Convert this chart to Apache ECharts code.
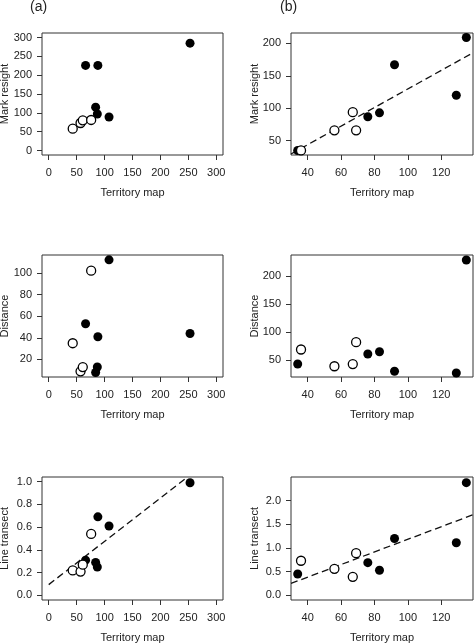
<!DOCTYPE html>
<html>
<head>
<meta charset="utf-8">
<script src="https://cdn.jsdelivr.net/npm/echarts@6/dist/echarts.min.js"></script>
<style>
  html, body { margin: 0; padding: 0; background: #fff; }
  #chart { width: 474px; height: 643px; }
</style>
</head>
<body>
<div id="chart"></div>
<script>
// column (a): territory map x values, filled and open points
const mapAFilled = [66, 84, 87, 88, 108, 253]
const mapAOpen = [43, 57, 61, 76]
const markAFilled = [226, 115, 97, 226, 89, 285]
const markAOpen = [58, 73, 80, 81]
const distAFilled = [53, 8, 13, 41, 112, 44]
const distAOpen = [35, 9, 13, 102]
const lineAFilled = [0.31, 0.29, 0.25, 0.69, 0.61, 0.99]
const lineAOpen = [0.22, 0.21, 0.27, 0.54]

// column (b)
const mapBFilled = [34, 76, 83, 92, 129, 135]
const mapBOpen = [36, 56, 67, 69]
const markBFilled = [35, 87, 93, 167, 120, 209]
const markBOpen = [35, 66, 94, 66]
const distBFilled = [43, 61, 65, 30, 27, 229]
const distBOpen = [69, 39, 43, 82]
const lineBFilled = [0.45, 0.69, 0.53, 1.2, 1.11, 2.38]
const lineBOpen = [0.73, 0.56, 0.39, 0.89]

// dashed fit lines (end points)
const fitMarkB = [[30, 29.6], [138.8, 185.3]]
const fitLineA = [[0, 0.095], [248.5, 1.04]]
const fitLineB = [[30, 0.25], [138.8, 1.70]]

// tick labels
const ticksMapA = [0, 50, 100, 150, 200, 250, 300]
const ticksMapB = [40, 60, 80, 100, 120]
const ticksMarkA = [0, 50, 100, 150, 200, 250, 300]
const ticksMarkB = [50, 100, 150, 200]
const ticksDistA = [20, 40, 60, 80, 100]
const ticksDistB = [50, 100, 150, 200]
const ticksLineA = [0, 0.2, 0.4, 0.6, 0.8, 1.0]
const ticksLineB = [0, 0.5, 1.0, 1.5, 2.0]

const font = 'Liberation Sans, Arial, sans-serif'
const txt = '#222'

const zip = (xs, ys) => xs.map((x, i) => [x, ys[i]])

const grids = [
  { left: 42, top: 33, width: 181, height: 122 },
  { left: 291, top: 33, width: 182, height: 122 },
  { left: 42, top: 255, width: 181, height: 122 },
  { left: 291, top: 255, width: 182, height: 122 },
  { left: 42, top: 477, width: 181, height: 123 },
  { left: 291, top: 477, width: 182, height: 123 },
].map(g => ({
  ...g,
  show: true,
  containLabel: false,
  outerBoundsMode: 'none',
  borderColor: '#333',
  borderWidth: 1,
  backgroundColor: 'transparent',
}))

const makeAxis = (gridIndex, min, max, ticks, name, gap, digits, margin) => ({
  gridIndex,
  type: 'value',
  min,
  max,
  name,
  nameLocation: 'middle',
  nameGap: gap,
  nameMoveOverlap: false,
  nameTextStyle: { color: txt, fontSize: 11, fontFamily: font },
  axisLine: { show: false, onZero: false },
  splitLine: { show: false },
  axisTick: { show: true, length: 5, customValues: ticks, lineStyle: { color: '#333' } },
  axisLabel: {
    customValues: ticks,
    margin,
    color: txt,
    fontSize: 11,
    fontFamily: font,
    formatter: v => v.toFixed(digits),
  },
})

const xAxes = [0, 1, 2, 3, 4, 5].map(i => i % 2 === 0
  ? makeAxis(i, -12, 312, ticksMapA, 'Territory map', 32, 0, 12)
  : makeAxis(i, 30, 139, ticksMapB, 'Territory map', 32, 0, 12))

const yAxes = [
  makeAxis(0, -12, 312, ticksMarkA, 'Mark resight', 32, 0, 10),
  makeAxis(1, 28, 216, ticksMarkB, 'Mark resight', 31, 0, 10),
  makeAxis(2, 3.8, 116.5, ticksDistA, 'Distance', 32, 0, 10),
  makeAxis(3, 19.8, 238, ticksDistB, 'Distance', 31, 0, 10),
  makeAxis(4, -0.04, 1.04, ticksLineA, 'Line transect', 32, 1, 10),
  makeAxis(5, -0.1, 2.5, ticksLineB, 'Line transect', 31, 1, 10),
]

const filled = (i, data) => ({
  type: 'scatter', xAxisIndex: i, yAxisIndex: i, data, symbolSize: 9,
  itemStyle: { color: '#000', opacity: 1 }, silent: true,
})
const open = (i, data) => ({
  type: 'scatter', xAxisIndex: i, yAxisIndex: i, data, symbolSize: 9,
  itemStyle: { color: '#fff', borderColor: '#000', borderWidth: 1.3, opacity: 1 }, silent: true,
})
const fit = (i, data) => ({
  type: 'line', xAxisIndex: i, yAxisIndex: i, data, symbol: 'none', silent: true,
  lineStyle: { color: '#111', width: 1.3, type: [7, 4] }, z: 1,
})

const chart = echarts.init(document.getElementById('chart'))
chart.setOption({
  animation: false,
  backgroundColor: '#fff',
  grid: grids,
  xAxis: xAxes,
  yAxis: yAxes,
  graphic: [
    { type: 'text', left: 30, top: 0, style: { text: '(a)', fontSize: 14, fontFamily: font, fill: txt } },
    { type: 'text', left: 280, top: 0, style: { text: '(b)', fontSize: 14, fontFamily: font, fill: txt } },
  ],
  series: [
    filled(0, zip(mapAFilled, markAFilled)),
    open(0, zip(mapAOpen, markAOpen)),
    fit(1, fitMarkB),
    filled(1, zip(mapBFilled, markBFilled)),
    open(1, zip(mapBOpen, markBOpen)),
    filled(2, zip(mapAFilled, distAFilled)),
    open(2, zip(mapAOpen, distAOpen)),
    filled(3, zip(mapBFilled, distBFilled)),
    open(3, zip(mapBOpen, distBOpen)),
    fit(4, fitLineA),
    filled(4, zip(mapAFilled, lineAFilled)),
    open(4, zip(mapAOpen, lineAOpen)),
    fit(5, fitLineB),
    filled(5, zip(mapBFilled, lineBFilled)),
    open(5, zip(mapBOpen, lineBOpen)),
  ],
})
</script>
</body>
</html>
